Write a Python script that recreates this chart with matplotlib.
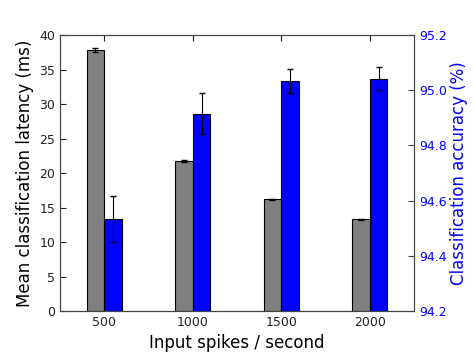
import numpy as np
import matplotlib
matplotlib.use("Agg")
import matplotlib.pyplot as plt

rates = [500, 1000, 1500, 2000]
latency = [37.8, 21.8, 16.2, 13.3]
latency_err = [0.3, 0.15, 0.05, 0.1]
accuracy = [94.533, 94.915, 95.034, 95.042]
accuracy_err = [0.083, 0.074, 0.044, 0.041]

plt.rcParams['xtick.direction'] = 'in'
plt.rcParams['ytick.direction'] = 'in'

fig = plt.figure(figsize=(4.74, 3.55), dpi=100)
ax1 = fig.add_axes([60/474, 1-311/355, 354/474, 276/355])
ax2 = ax1.twinx()

x = np.array(rates)
w = 100
ax1.bar(x - w, latency, w, align='edge', color='gray', edgecolor='k', linewidth=0.8)
ax1.errorbar(x - w/2, latency, yerr=latency_err, fmt='none', ecolor='k', capsize=2, elinewidth=0.8)
ax2.bar(x, np.array(accuracy) - 94.2, w, bottom=94.2, align='edge', color='b', edgecolor='k', linewidth=0.8)
ax2.errorbar(x + w/2, accuracy, yerr=accuracy_err, fmt='none', ecolor='k', capsize=2, elinewidth=0.8)

ax1.set_xlim(250, 2250)
ax1.set_ylim(0, 40)
ax2.set_ylim(94.2, 95.2)
ax1.set_xticks(rates)
ax1.set_yticks(range(0, 41, 5))
ax2.set_yticks([94.2, 94.4, 94.6, 94.8, 95.0, 95.2])
ax1.tick_params(top=True, labelsize=9, length=4, colors='#222222')
ax2.tick_params(axis='y', labelsize=9, labelcolor='b', length=4, color='#444444')
for ax in (ax1, ax2):
    for s in ax.spines.values():
        s.set_color('#444444')

ax1.set_xlabel('Input spikes / second', fontsize=12)
ax1.set_ylabel('Mean classification latency (ms)', fontsize=12)
ax2.set_ylabel('Classification accuracy (%)', fontsize=12, color='b', labelpad=2)

fig.savefig('out.png', dpi=100)
